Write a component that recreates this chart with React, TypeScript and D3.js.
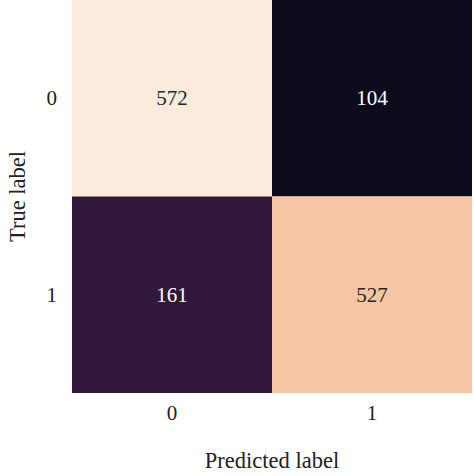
import React from "react";
import * as d3 from "d3";

const trueLabels = ["0", "1"];
const predLabels = ["0", "1"];
const matrix = [
  [572, 104],
  [161, 527],
];
// approximate seaborn "rocket" colormap stops
const rocketStops = ["#0d0c1d", "#281535", "#551c4e", "#8e1d5b", "#c11a53", "#e5393f", "#f26a4b", "#f4885f", "#f5a883", "#f6c3a1", "#faebdd"];

const W = 474, H = 476;
const left = 72, right = 472, top = 0, bottom = 393;
const FONT = "'Liberation Serif', 'DejaVu Serif', serif";

export default function App() {
  const x = d3.scaleBand<string>().domain(predLabels).range([left, right]);
  const y = d3.scaleBand<string>().domain(trueLabels).range([top, bottom]);
  const flat = matrix.flat();
  const color = d3
    .scaleSequential(d3.piecewise(d3.interpolateRgb, rocketStops))
    .domain([d3.min(flat)!, d3.max(flat)!]);
  const cells: { r: string; c: string; v: number }[] = [];
  trueLabels.forEach((r, i) => predLabels.forEach((c, j) => cells.push({ r, c, v: matrix[i][j] })));
  const mid = (d3.min(flat)! + d3.max(flat)!) / 2;
  return (
    <svg width={W} height={H} style={{ position: "absolute", left: 0, top: 0 }} fontFamily={FONT}>
      <rect width={W} height={H} fill="#fff" />
      {cells.map((d, k) => (
        <g key={k}>
          <rect x={x(d.c)} y={y(d.r)} width={x.bandwidth()} height={y.bandwidth()} fill={color(d.v)} />
          <text
            x={x(d.c)! + x.bandwidth() / 2}
            y={y(d.r)! + y.bandwidth() / 2}
            textAnchor="middle"
            dominantBaseline="central"
            fontSize={21}
            fill={d.v > mid ? "#262626" : "#ffffff"}
          >
            {d.v}
          </text>
        </g>
      ))}
      {trueLabels.map((r) => (
        <text key={"y" + r} x={57} y={y(r)! + y.bandwidth() / 2} textAnchor="end" dominantBaseline="central" fontSize={21} fill="#222">
          {r}
        </text>
      ))}
      {predLabels.map((c) => (
        <text key={"x" + c} x={x(c)! + x.bandwidth() / 2} y={413} textAnchor="middle" dominantBaseline="central" fontSize={21} fill="#222">
          {c}
        </text>
      ))}
      <text x={(left + right) / 2} y={460} textAnchor="middle" dominantBaseline="central" fontSize={22.5} fill="#222">
        Predicted label
      </text>
      <text
        transform={`translate(17,${(top + bottom) / 2}) rotate(-90)`}
        textAnchor="middle"
        dominantBaseline="central"
        fontSize={22.5}
        fill="#222"
      >
        True label
      </text>
    </svg>
  );
}
